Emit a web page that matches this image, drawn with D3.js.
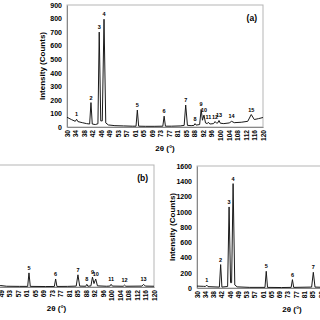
<!DOCTYPE html>
<html>
<head>
<meta charset="utf-8">
<script src="https://cdn.jsdelivr.net/npm/d3@7"></script>
<style>
  body { margin: 0; background: #fff; }
  text { font-family: "Liberation Sans", Arial, sans-serif; font-weight: bold; fill: #000; }
</style>
</head>
<body>
<script>
// x tick labels (Excel style rounded category labels)
const tickLabels = ["30","34","38","42","46","49","53","57","61","65","69","73","77","81","85","88","92","96","100","104","108","112","116","120"];

const yTicksA = [0,100,200,300,400,500,600,700,800,900];
const yTicksBC = [0,200,400,600,800,1000,1200,1400,1600];

// traces: [2theta, counts, peak label]
const traceA = [[30,72],[32,55],[33.8,42],[34.4,57,"1"],[35,40],[37,32],[39,25],[40.4,22],[41,180,"2"],[41.6,22],[43,18],[44.2,24],
  [44.8,700,"3"],[45.5,45],[46.2,45],[47,795,"4"],[47.8,30],[49,15],[52,10],[56,8],[60,6],[61.7,6],[62.3,125,"5"],[62.9,6],
  [66,5],[70,5],[74,6],[74.6,80,"6"],[75.2,6],[78,6],[82,8],[83.8,12],[84.5,162,"7"],[85.3,12],[87,10],[88.3,12],[88.8,25,"8"],
  [89.3,14],[90.9,18],[91.6,130,"9"],[92.2,50],[92.9,88,"10"],[93.6,30],[94.4,25],[94.9,35,"11"],[95.6,22],[97.3,25],
  [98,40,"12"],[98.7,28],[99.2,30],[99.8,48,"13"],[100.4,28],[102,25],[104.5,30],[105.6,42,"14"],[106.8,32],[110,35],
  [113,42],[114.6,92,"15"],[116,55],[118,62],[120,70]];

const traceB = [[30,30],[34,25],[34.6,50,"1"],[35.2,22],[40.6,15],[41.2,300,"2"],[41.8,15],[44.6,20],[45.2,1000,"3"],[45.9,60],
  [46.4,60],[47.1,1300,"4"],[47.9,40],[49,20],[52,10],[58,8],[61.7,8],[62.3,185,"5"],[62.9,8],[70,6],[74,7],[74.6,105,"6"],
  [75.2,7],[80,8],[84.1,12],[84.9,160,"7"],[85.7,12],[88.5,10],[89,35,"8"],[89.5,10],[90.9,15],[91.6,130,"9"],[92.3,45],
  [93.1,105,"10"],[93.9,15],[98,10],[99.6,12],[100.2,35,"11"],[100.8,12],[105.8,10],[106.4,25,"12"],[107,10],[114.4,12],
  [115.2,35,"13"],[116,12],[120,10]];

const traceC = [[30,25],[33,22],[34,20],[34.6,38,"1"],[35.2,18],[40.6,12],[41.2,307,"2"],[41.8,12],[44.5,20],[45.2,1063,"3"],
  [45.9,70],[46.4,70],[47.1,1369,"4"],[47.9,40],[49,15],[55,8],[62.2,8],[62.8,219,"5"],[63.4,8],[70,6],[74.6,8],[75.2,110,"6"],
  [75.8,8],[84.3,12],[85.1,206,"7"],[85.9,12],[88.7,10],[89.2,40,"8"],[89.7,10],[91,15],[91.7,150,"9"],[92.4,50],[93.2,120,"10"],
  [94,15],[99.6,12],[100.2,40,"11"],[100.8,12],[105.8,10],[106.4,30,"12"],[107,10],[114.4,12],[115.2,40,"13"],[116,12],[120,10]];

const svg = d3.select("body").append("svg").attr("width", 320).attr("height", 320);

function drawPanel(p) {
  const x = d3.scaleLinear().domain([30, 120]).range([p.left, p.right]);
  const y = d3.scaleLinear().domain([0, p.ymax]).range([p.bottom, p.top]);
  const g = svg.append("g");

  // plot area border
  g.append("rect").attr("x", p.left).attr("y", p.top)
    .attr("width", p.right - p.left).attr("height", p.bottom - p.top)
    .attr("fill", "none").attr("stroke", "#b5b5b5").attr("stroke-width", 1);

  const tickVals = tickLabels.map((d, i) => 30 + i * 90 / (tickLabels.length - 1));
  const xAxis = d3.axisBottom(x).tickValues(tickVals).tickSize(0)
    .tickFormat((d, i) => tickLabels[i]);
  const gx = g.append("g").attr("transform", "translate(0," + p.bottom + ")").call(xAxis);
  gx.select(".domain").attr("stroke", "#888");
  gx.selectAll("text")
    .attr("transform", "rotate(-90)")
    .attr("x", -3).attr("y", 0).attr("dy", "0.32em")
    .attr("text-anchor", "end")
    .style("font-size", "6.6px").style("font-family", "Liberation Sans").style("font-weight", "bold");

  const yAxis = d3.axisLeft(y).tickValues(p.yticks).tickSize(0).tickPadding(5).tickFormat(d3.format("d"));
  const gy = g.append("g").attr("transform", "translate(" + p.left + ",0)").call(yAxis);
  gy.select(".domain").attr("stroke", "#888");
  gy.selectAll("text").style("font-size", "7px").style("font-family", "Liberation Sans").style("font-weight", "bold");

  const line = d3.line().x(d => x(d[0])).y(d => y(d[1]));
  g.append("path").datum(p.data).attr("d", line)
    .attr("fill", "none").attr("stroke", "#1a1a1a").attr("stroke-width", 1).attr("stroke-linejoin", "round");

  g.selectAll(".pk").data(p.data.filter(d => d[2])).enter().append("text")
    .attr("x", d => x(d[0])).attr("y", d => y(d[1]) - 3)
    .attr("text-anchor", "middle").style("font-size", "5.5px")
    .text(d => d[2]);

  g.append("text").attr("x", (p.left + p.right) / 2).attr("y", p.bottom + 24)
    .attr("text-anchor", "middle").style("font-size", "8px").text("2θ (°)");

  g.append("text").attr("transform", "translate(" + (p.left - 22) + "," + ((p.top + p.bottom) / 2) + ") rotate(-90)")
    .attr("text-anchor", "middle").style("font-size", "8px").text("Intensity (Counts)");

  g.append("text").attr("x", p.right - 6).attr("y", p.top + 16)
    .attr("text-anchor", "end").style("font-size", "8.5px").text(p.tag);
}

drawPanel({left: 67, right: 263, top: 5, bottom: 127, ymax: 900, yticks: yTicksA, data: traceA, tag: "(a)"});
drawPanel({left: -41, right: 154, top: 165, bottom: 287, ymax: 1600, yticks: yTicksBC, data: traceB, tag: "(b)"});
drawPanel({left: 197, right: 387, top: 166, bottom: 288, ymax: 1600, yticks: yTicksBC, data: traceC, tag: "(c)"});
</script>
</body>
</html>
